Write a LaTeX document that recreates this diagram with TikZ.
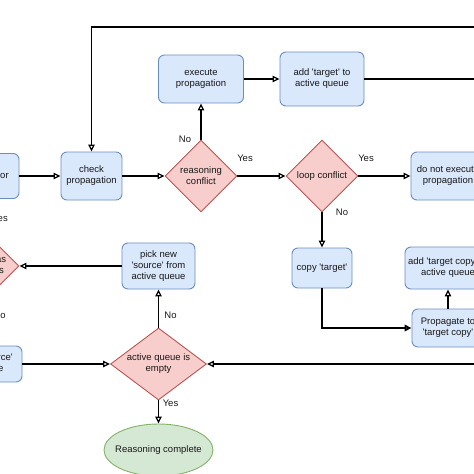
\documentclass[tikz,border=0pt]{standalone}
\usepackage{fontspec}
\setmainfont{Liberation Sans}
\usetikzlibrary{shapes,arrows.meta}
\definecolor{boxfill}{HTML}{DAE8FC}
\definecolor{boxline}{HTML}{6C8EBF}
\definecolor{decfill}{HTML}{F8CECC}
\definecolor{decline}{HTML}{B85450}
\definecolor{endfill}{HTML}{D5E8D4}
\definecolor{endline}{HTML}{82B366}
\newcommand\qt[1]{\textquotesingle#1\textquotesingle}

\begin{document}
\begin{tikzpicture}[x=1pt,y=-1pt,
every node/.style={font=\fontsize{9.5}{11}\selectfont,text=black!90},
box/.style={draw=boxline,fill=boxfill,line width=.9pt,rounded corners=6pt,align=center,inner sep=1pt},
cond/.style={diamond,draw=decline,fill=decfill,line width=.9pt,align=center,inner sep=0pt},
term/.style={ellipse,draw=endline,fill=endfill,line width=.9pt,inner sep=0pt},
flow/.style={line width=1.3pt,-{Triangle[open,length=7pt,width=6.5pt]}}]
\useasboundingbox (0,0) rectangle (474,474);
\clip (0,0) rectangle (474,474);
\node[box,minimum width=85pt,minimum height=45pt] (nbr) at (-23.5,176) {select neighbor};
\node[box,minimum width=61pt,minimum height=48pt] (check) at (91.5,176) {check\\propagation};
\node[cond,minimum width=72pt,minimum height=72pt] (rc) at (201,176) {reasoning\\conflict};
\node[box,minimum width=85pt,minimum height=48pt] (exec) at (201,79) {execute\\propagation};
\node[box,minimum width=84pt,minimum height=54pt] (addt) at (322,79) {add \qt{target} to\\active queue};
\node[cond,minimum width=72pt,minimum height=72pt] (lc) at (322,176) {loop conflict};
\node[box,minimum width=74pt,minimum height=48pt] (dont) at (448,176) {do not execute\\propagation};
\node[box,minimum width=60pt,minimum height=40pt] (copy) at (322,268) {copy \qt{target}};
\node[box,minimum width=86pt,minimum height=42pt] (addc) at (448,268) {add \qt{target copy} to\\active queue};
\node[box,minimum width=72pt,minimum height=38pt] (prop) at (448,328) {Propagate to\\\qt{target copy}};
\node[cond,aspect=1.33,minimum width=96pt,minimum height=72pt] (aq) at (158.5,364) {active queue is\\empty};
\node[box,minimum width=73pt,minimum height=46pt] (pick) at (158.5,266) {pick new\\\qt{source} from\\active queue};
\node[cond,minimum width=72pt,minimum height=72pt] (has) at (-17,266) {source has\\neighbors};
\node[box,minimum width=85pt,minimum height=36pt] (rem) at (-20.5,364) {remove \qt{source}\\from queue};
\node[term,minimum width=109pt,minimum height=52pt] (done) at (158.5,450) {\makebox[0pt]{Reasoning complete}};
\coordinate (loopin) at (490,27);
\coordinate (addtout) at (490,79);
\coordinate (aqin) at (490,364);
\draw[flow] (nbr) -- (check);
\draw[flow] (loopin) -| (check);
\draw[flow] (check) -- (rc);
\draw[flow] (rc) -- (exec);
\draw[flow] (exec) -- (addt);
\draw[line width=1.3pt] (addt) -- (addtout);
\draw[flow] (rc) -- (lc);
\draw[flow] (lc) -- (dont);
\draw[flow] (lc) -- (copy);
\draw[flow,line width=2.5pt] (copy) |- (prop);
\draw[flow] (prop) -- (addc);
\draw[flow] (aqin) -- (aq);
\draw[flow] (rem) -- (aq);
\draw[flow] (aq) -- (pick);
\draw[flow] (pick) -- (has);
\draw[flow] (aq) -- (done);
\node (rcno) at (185,139) {No};
\node (rcyes) at (245,158) {Yes};
\node (lcyes) at (366,158) {Yes};
\node (lcno) at (342,212) {No};
\node (hasyes) at (0,218) {Yes};
\node (hasno) at (-0.5,315) {No};
\node (aqno) at (170.5,315) {No};
\node (aqyes) at (170.5,403) {Yes};
\end{tikzpicture}
\end{document}
